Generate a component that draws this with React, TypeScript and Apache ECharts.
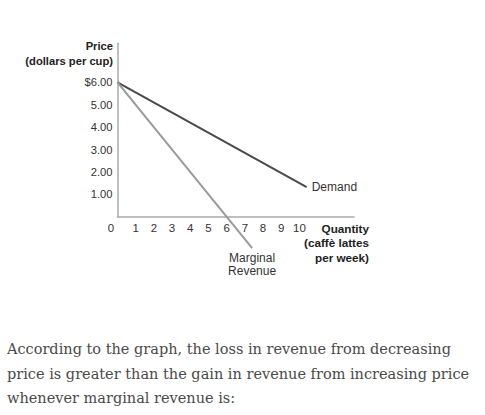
import React, { useEffect, useRef } from 'react';
import * as echarts from 'echarts';

// 需求曲线与边际收益曲线（由图读取的端点）
const demandQty = [0, 10.4];
const demandPrice = [6, 1.32];
const mrQty = [0, 7.4];
const mrPrice = [6, -1.4];

// 坐标轴刻度标签
const yTickValues = [1, 2, 3, 4, 5, 6];
const yTickLabels = ['1.00', '2.00', '3.00', '4.00', '5.00', '$6.00'];
const xTickValues = [0, 1, 2, 3, 4, 5, 6, 7, 8, 9, 10];
const xTickLabels = ['0', '1', '2', '3', '4', '5', '6', '7', '8', '9', '10'];

const yAxisTitle = 'Price\n(dollars per cup)';
const xAxisTitle = 'Quantity\n(caffè lattes\nper week)';
const questionText =
  'According to the graph, the loss in revenue from decreasing\n' +
  'price is greater than the gain in revenue from increasing price\n' +
  'whenever marginal revenue is:';

const SANS = '"Liberation Sans", Arial, Helvetica, sans-serif';

const App: React.FC = () => {
  const chartRef = useRef<HTMLDivElement>(null);

  useEffect(() => {
    if (!chartRef.current) return;
    const chart = echarts.init(chartRef.current, undefined, { renderer: 'svg' });

    const demandData = demandQty.map((q, i) => [q, demandPrice[i]]);
    // 最后一个点带曲线名称标签
    const mrData = mrQty.map((q, i) =>
      i === mrQty.length - 1
        ? {
            value: [q, mrPrice[i]],
            label: {
              show: true,
              position: 'bottom' as const,
              distance: 3,
              formatter: 'Marginal\nRevenue',
              color: '#333333',
              fontFamily: SANS,
              fontSize: 12,
              lineHeight: 13,
              align: 'center' as const,
            },
          }
        : { value: [q, mrPrice[i]] },
    );

    const option: echarts.EChartsOption = {
      animation: false,
      backgroundColor: '#ffffff',
      grid: {
        left: 117.5,
        right: 131,
        top: 43.3,
        bottom: 198.3,
        containLabel: false,
      },
      xAxis: {
        type: 'value',
        min: 0,
        max: 13,
        interval: 1,
        axisLine: { show: true, lineStyle: { color: '#aaaaaa', width: 1.5 } },
        axisTick: { show: false },
        splitLine: { show: false },
        axisLabel: {
          margin: 5,
          color: '#333333',
          fontFamily: SANS,
          fontSize: 11.5,
          showMaxLabel: false,
          formatter: (v: number) => {
            const i = xTickValues.indexOf(v);
            if (i < 0) return '';
            return v === 0 ? '{zero|' + xTickLabels[i] + '}' : xTickLabels[i];
          },
          rich: {
            zero: { padding: [0, 13, 0, 0], fontSize: 11.5, color: '#333333', fontFamily: SANS },
          },
        },
      },
      yAxis: {
        type: 'value',
        min: 0,
        max: 7.75,
        interval: 1,
        axisLine: { show: true, lineStyle: { color: '#aaaaaa', width: 1.5 } },
        axisTick: { show: false },
        splitLine: { show: false },
        axisLabel: {
          margin: 5,
          color: '#333333',
          fontFamily: SANS,
          fontSize: 11.2,
          showMaxLabel: false,
          formatter: (v: number) => {
            const i = yTickValues.indexOf(v);
            return i < 0 ? '' : yTickLabels[i];
          },
        },
      },
      series: [
        {
          name: 'Demand',
          type: 'line',
          data: demandData,
          symbol: 'none',
          clip: false,
          lineStyle: { color: '#4a4a4a', width: 2 },
          endLabel: {
            show: true,
            formatter: 'Demand',
            distance: 5,
            color: '#333333',
            fontFamily: SANS,
            fontSize: 12,
          },
        },
        {
          name: 'Marginal Revenue',
          type: 'line',
          data: mrData,
          symbol: 'circle',
          symbolSize: 0,
          showSymbol: true,
          showAllSymbol: true,
          clip: false,
          lineStyle: { color: '#9a9a9a', width: 2 },
          itemStyle: { color: '#9a9a9a' },
        },
      ],
      graphic: [
        {
          type: 'text',
          x: 113,
          y: 38,
          style: {
            text: yAxisTitle,
            textAlign: 'right',
            textVerticalAlign: 'top',
            fill: '#222222',
            font: 'bold 11.2px ' + SANS,
            lineHeight: 15,
          },
        },
        {
          type: 'text',
          x: 369,
          y: 221,
          style: {
            text: xAxisTitle,
            textAlign: 'right',
            textVerticalAlign: 'top',
            fill: '#222222',
            font: 'bold 11.7px ' + SANS,
            lineHeight: 14.5,
          },
        },
        {
          type: 'text',
          x: 7,
          y: 337,
          style: {
            text: questionText,
            textAlign: 'left',
            textVerticalAlign: 'top',
            fill: '#4a4a4a',
            font: '14.5px "DejaVu Serif", serif',
            lineHeight: 24.5,
          },
        },
      ],
    };

    chart.setOption(option);
    return () => {
      chart.dispose();
    };
  }, []);

  return (
    <div
      ref={chartRef}
      style={{ position: 'absolute', left: 0, top: 0, width: 485, height: 415 }}
    />
  );
};

export default App;
